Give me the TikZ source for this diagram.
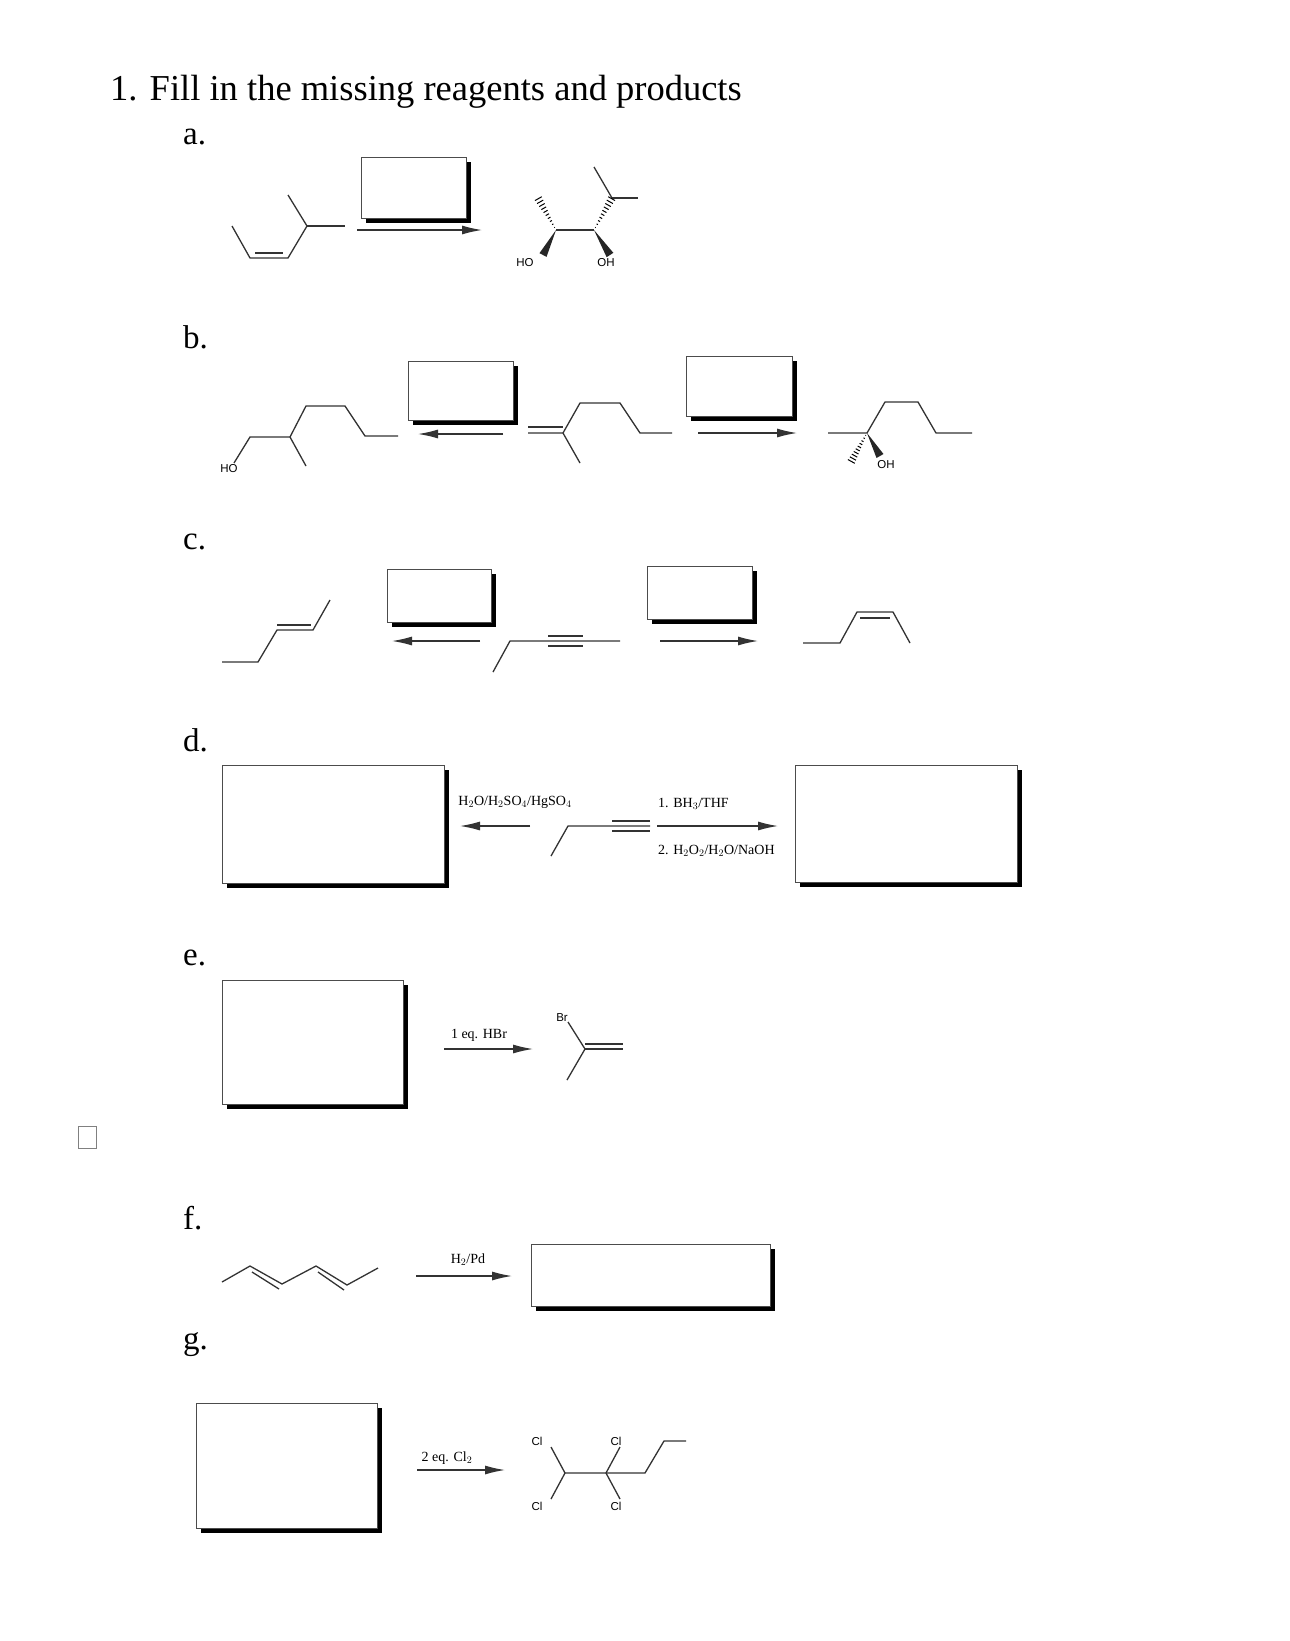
\documentclass[tikz,border=0pt]{standalone}
\usepackage{fontspec}
\setmainfont{Liberation Serif}
\newfontfamily\labf{Liberation Sans}
\usetikzlibrary{calc,arrows.meta}
\tikzset{
 bond/.style={line width=1.3pt,draw=black!80},
 rxn/.style={line width=1.3pt,draw=black!80,-{Latex[length=20pt,width=9pt]}},
 atom/.style={font=\labf\fontsize{11.5}{11.5}\selectfont,inner sep=0pt},
 reag/.style={font=\fontsize{14}{14}\selectfont,inner sep=0pt},
 letter/.style={font=\fontsize{33}{33}\selectfont,inner sep=0pt,anchor=west},
}
\newcommand{\ansbox}[4]{%
 \fill[black] (#1+5,#2+5) rectangle (#3+5,#4+5);
 \filldraw[fill=white,draw=black!70,line width=1pt] (#1,#2) rectangle (#3,#4);}
\newcommand{\wedgeb}[2]{\fill[black!85] (#1) -- ($(#2)!4pt!90:(#1)$) -- ($(#2)!4pt!-90:(#1)$) -- cycle;}
\newcommand{\hashb}[2]{\foreach \t in {0.08,0.18,...,1.0}{\coordinate (hp) at ($(#1)!\t!(#2)$);
 \draw[line width=1pt] ($(hp)!\t*4pt!90:(#2)$) -- ($(hp)!\t*4pt!-90:(#2)$);}}
\begin{document}
\begin{tikzpicture}[x=1pt,y=-1pt]
\useasboundingbox (0,0) rectangle (1290,1641);
\fill[white] (0,0) rectangle (1290,1641);
\node[anchor=west,inner sep=0pt,font=\fontsize{36.5}{36.5}\selectfont] (title) at (110,92) {1. Fill in the missing reagents and products};
\node[letter] (la) at (183,137) {a.};
\node[letter] (lb) at (183,337) {b.};
\node[letter] (lc) at (183,542) {c.};
\node[letter] (ld) at (183,740) {d.};
\node[letter] (le) at (183,958) {e.};
\node[letter] (lf) at (183,1218) {f.};
\node[letter] (lg) at (183,1345) {g.};
% boxes
\ansbox{361}{157}{466}{218}
\ansbox{408}{361}{513}{420}
\ansbox{686}{356}{792}{416}
\ansbox{387}{569}{491}{622}
\ansbox{647}{566}{752}{619}
\ansbox{222}{765}{444}{883}
\ansbox{795}{765}{1017}{882}
\ansbox{222}{980}{403}{1104}
\ansbox{531}{1244}{770}{1306}
\ansbox{196}{1403}{377}{1528}
\draw[black!50,line width=1pt] (78,1126) rectangle (96,1148);
% ---- a
\coordinate (a1) at (232,226); \coordinate (a2) at (250,258); \coordinate (a3) at (288,258);
\coordinate (a4) at (307,226); \coordinate (a5) at (288,195); \coordinate (a6) at (345,226);
\draw[bond] (a1)--(a2)--(a3)--(a4)--(a5); \draw[bond] (a4)--(a6);
\draw[bond] ($(a2)+(5,-5)$)--($(a3)+(-5,-5)$);
\coordinate (aA) at (357,230); \coordinate (aB) at (482,230);
\draw[rxn] (aA)--(aB);
\coordinate (p2) at (556,230); \coordinate (p3) at (594,230);
\coordinate (p1) at (538,198); \coordinate (p4) at (612,198);
\coordinate (p5) at (594,167); \coordinate (p6) at (638,198);
\coordinate (p7) at (543,255); \coordinate (p8) at (610,255);
\draw[bond] (p2)--(p3); \draw[bond] (p4)--(p5); \draw[bond] (p4)--(p6);
\hashb{p2}{p1} \hashb{p3}{p4}
\wedgeb{p2}{p7} \wedgeb{p3}{p8}
\node[atom] (ho1) at (525,263) {HO};
\node[atom] (oh1) at (606,263) {OH};
% ---- b
\coordinate (b1) at (250,437); \coordinate (b2) at (290,437); \coordinate (b3) at (306,406);
\coordinate (b4) at (345,406); \coordinate (b5) at (365,436); \coordinate (b6) at (398,436);
\coordinate (b7) at (306,466); \coordinate (b0) at (234,463);
\draw[bond] (b0)--(b1)--(b2)--(b3)--(b4)--(b5)--(b6); \draw[bond] (b2)--(b7);
\node[atom] (ho2) at (229,469) {HO};
\coordinate (bA) at (503,434); \coordinate (bB) at (418,434);
\draw[rxn] (bA)--(bB);
\coordinate (m0) at (528,433); \coordinate (m1) at (563,433); \coordinate (m2) at (580,403);
\coordinate (m3) at (620,403); \coordinate (m4) at (640,433); \coordinate (m5) at (672,433);
\coordinate (m6) at (580,463);
\draw[bond] (m0)--(m1)--(m2)--(m3)--(m4)--(m5); \draw[bond] (m1)--(m6);
\draw[bond] ($(m0)+(0,-6)$)--($(m1)+(0,-6)$);
\coordinate (bC) at (698,433); \coordinate (bD) at (797,433);
\draw[rxn] (bC)--(bD);
\coordinate (q0) at (828,433); \coordinate (q1) at (867,433); \coordinate (q2) at (885,402);
\coordinate (q3) at (918,402); \coordinate (q4) at (936,433); \coordinate (q5) at (972,433);
\coordinate (q6) at (880,456); \coordinate (q7) at (851,462);
\draw[bond] (q0)--(q1)--(q2)--(q3)--(q4)--(q5);
\wedgeb{q1}{q6} \hashb{q1}{q7}
\node[atom] (oh2) at (886,465) {OH};
% ---- c
\coordinate (c1) at (222,662); \coordinate (c2) at (258,662); \coordinate (c3) at (277,630);
\coordinate (c4) at (313,630); \coordinate (c5) at (330,600);
\draw[bond] (c1)--(c2)--(c3)--(c4)--(c5);
\draw[bond] ($(c3)+(0,-5)$)--($(c4)+(-2,-5)$);
\coordinate (cA) at (480,641); \coordinate (cB) at (392,641);
\draw[rxn] (cA)--(cB);
\coordinate (k1) at (493,672); \coordinate (k2) at (510,641); \coordinate (k3) at (548,641);
\coordinate (k4) at (583,641); \coordinate (k5) at (620,641);
\draw[bond] (k1)--(k2)--(k5);
\draw[bond] ($(k3)+(0,-5)$)--($(k4)+(0,-5)$); \draw[bond] ($(k3)+(0,5)$)--($(k4)+(0,5)$);
\coordinate (cC) at (660,641); \coordinate (cD) at (758,641);
\draw[rxn] (cC)--(cD);
\coordinate (r1) at (803,643); \coordinate (r2) at (840,643); \coordinate (r3) at (857,612);
\coordinate (r4) at (893,612); \coordinate (r5) at (910,643);
\draw[bond] (r1)--(r2)--(r3)--(r4)--(r5);
\draw[bond] ($(r3)+(3,6)$)--($(r4)+(-3,6)$);
% ---- d
\coordinate (dA) at (530,826); \coordinate (dB) at (460,826);
\draw[rxn] (dA)--(dB);
\node[reag] (dl1) at (515,802) {H$_2$O/H$_2$SO$_4$/HgSO$_4$};
\coordinate (d1) at (551,856); \coordinate (d2) at (568,826); \coordinate (d3) at (612,826);
\coordinate (d4) at (650,826);
\draw[bond] (d1)--(d2)--(d4);
\draw[bond] ($(d3)+(0,-5)$)--($(d4)+(0,-5)$); \draw[bond] ($(d3)+(0,5)$)--($(d4)+(0,5)$);
\coordinate (dC) at (657,826); \coordinate (dD) at (778,826);
\draw[rxn] (dC)--(dD);
\node[reag,anchor=west] (dl2) at (658,804) {1. BH$_3$/THF};
\node[reag,anchor=west] (dl3) at (658,851) {2. H$_2$O$_2$/H$_2$O/NaOH};
% ---- e
\coordinate (eA) at (444,1049); \coordinate (eB) at (533,1049);
\draw[rxn] (eA)--(eB);
\node[reag] (el) at (479,1035) {1 eq. HBr};
\coordinate (e0) at (585,1049); \coordinate (e1) at (568,1022); \coordinate (e2) at (567,1080);
\coordinate (e3) at (623,1049);
\draw[bond] (e1)--(e0)--(e2); \draw[bond] (e0)--(e3); \draw[bond] ($(e0)+(0,-5)$)--($(e3)+(0,-5)$);
\node[atom] (br) at (562,1018) {Br};
% ---- f
\coordinate (f1) at (222,1282); \coordinate (f2) at (250,1266); \coordinate (f3) at (282,1284);
\coordinate (f4) at (316,1266); \coordinate (f5) at (347,1285); \coordinate (f6) at (378,1268);
\draw[bond] (f1)--(f2)--(f3)--(f4)--(f5)--(f6);
\draw[bond] ($(f2)+(2,6)$)--($(f3)+(-3,5)$); \draw[bond] ($(f4)+(2,6)$)--($(f5)+(-3,5)$);
\coordinate (fA) at (416,1276); \coordinate (fB) at (512,1276);
\draw[rxn] (fA)--(fB);
\node[reag] (fl) at (468,1260) {H$_2$/Pd};
% ---- g
\coordinate (gA) at (417,1470); \coordinate (gB) at (505,1470);
\draw[rxn] (gA)--(gB);
\node[reag] (gl) at (447,1458) {2 eq. Cl$_2$};
\coordinate (g1) at (565,1473); \coordinate (g2) at (606,1473); \coordinate (g3) at (645,1473);
\coordinate (g4) at (664,1441); \coordinate (g5) at (686,1441);
\coordinate (g6) at (551,1447); \coordinate (g7) at (551,1499);
\coordinate (g8) at (620,1447); \coordinate (g9) at (620,1499);
\draw[bond] (g1)--(g2)--(g3)--(g4)--(g5);
\draw[bond] (g6)--(g1)--(g7); \draw[bond] (g8)--(g2)--(g9);
\node[atom] (cl1) at (537,1441) {Cl};
\node[atom] (cl2) at (537,1506) {Cl};
\node[atom] (cl3) at (616,1441) {Cl};
\node[atom] (cl4) at (616,1506) {Cl};
\end{tikzpicture}
\end{document}
